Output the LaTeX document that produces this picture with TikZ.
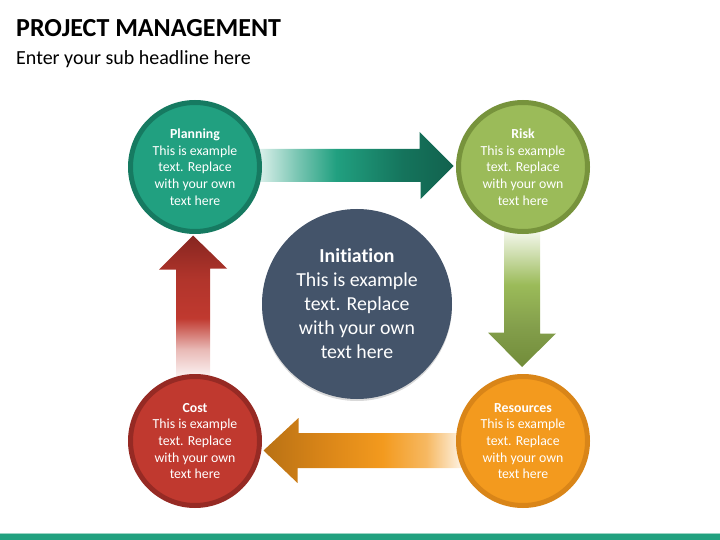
\documentclass[tikz,border=0pt]{standalone}
\usepackage{fontspec}
\setmainfont{Carlito}[Ligatures=NoCommon]
\usetikzlibrary{positioning, backgrounds, calc, shadows}

\definecolor{planfill}{HTML}{21A080}
\definecolor{planline}{HTML}{167A61}
\definecolor{riskfill}{HTML}{9BBB59}
\definecolor{riskline}{HTML}{77933C}
\definecolor{resfill}{HTML}{F39A1E}
\definecolor{resline}{HTML}{D98518}
\definecolor{costfill}{HTML}{C0392F}
\definecolor{costline}{HTML}{962A24}
\definecolor{initfill}{HTML}{44546A}
\definecolor{barteal}{HTML}{22A17F}

% arrow fades: the path spans 25bp..75bp of each shading
\pgfdeclarehorizontalshading{tealflow}{100bp}{color(0bp)=(planfill!15!white); color(25bp)=(planfill!15!white);
  color(35bp)=(planfill!60!white); color(45bp)=(planfill); color(62bp)=(planline!95!black); color(75bp)=(planline!80!black); color(100bp)=(planline!80!black)}
\pgfdeclareverticalshading{greenflow}{100bp}{color(0bp)=(riskline!95!black); color(25bp)=(riskline!95!black);
  color(40bp)=(riskfill!85!black); color(55bp)=(riskfill); color(67bp)=(riskfill!45!white); color(75bp)=(riskfill!10!white); color(100bp)=(riskfill!10!white)}
\pgfdeclarehorizontalshading{orangeflow}{100bp}{color(0bp)=(resline!85!black); color(25bp)=(resline!85!black);
  color(40bp)=(resline); color(55bp)=(resfill); color(66bp)=(resfill!70!white); color(75bp)=(resfill!12!white); color(100bp)=(resfill!12!white)}
\pgfdeclareverticalshading{redflow}{100bp}{color(0bp)=(costfill!5!white); color(25bp)=(costfill!5!white);
  color(35bp)=(costfill!35!white); color(46bp)=(costfill); color(60bp)=(costfill!92!black); color(75bp)=(costline!90!black); color(100bp)=(costline!90!black)}

\tikzset{
  stage/.style={circle, minimum size=129pt, line width=5pt, inner sep=0pt,
    text=white, align=center, font=\fontsize{13.8}{16.7}\selectfont},
}

\begin{document}
\begin{tikzpicture}[x=1pt, y=-1pt]
    \useasboundingbox (0,0) rectangle (720,540);

    \node[font=\fontsize{26}{30}\selectfont\bfseries, anchor=base west, inner sep=0pt] (title) at (16,37) {PROJECT MANAGEMENT};
    \node[font=\fontsize{20}{24}\selectfont, anchor=base west, inner sep=0pt] (subtitle) at (16,65) {Enter your sub headline here};

    \node[stage, draw=planline, fill=planfill] (plan) at (195,167) {\textbf{Planning}\\This is example\\text. Replace\\with your own\\text here};
    \node[stage, draw=riskline, fill=riskfill] (risk) at (523,167) {\textbf{Risk}\\This is example\\text. Replace\\with your own\\text here};
    \node[stage, draw=resline, fill=resfill] (res) at (523,441) {\textbf{Resources}\\This is example\\text. Replace\\with your own\\text here};
    \node[stage, draw=costline, fill=costfill] (cost) at (195,441) {\textbf{Cost}\\This is example\\text. Replace\\with your own\\text here};

    \node[circle, minimum size=190pt, inner sep=0pt, fill=initfill, text=white, align=center,
          font=\fontsize{19.8}{24}\selectfont,
          drop shadow={opacity=0.3, shadow xshift=0pt, shadow yshift=-2pt}] (init) at (357,304)
          {\textbf{Initiation}\\This is example\\text. Replace\\with your own\\text here};

    \begin{scope}[on background layer]
    % planning -> risk
    \shade[shading=tealflow]
        ($(plan.east)+(-4,-18)$) -- ++(161.5,0) -- ++(0,-17) -- ($(risk.west)+(-2.5,-1)$)
        -- ++(-33,33) -- ++(0,-17) -- ++(-161.5,0) -- cycle;
    % risk -> resources
    \shade[shading=greenflow]
        ($(risk.south)+(-19,-4)$) -- ++(0,102.5) -- ++(-16,0) -- ($(res.north)+(-1,-7)$)
        -- ++(34,-33.5) -- ++(-16,0) -- ++(0,-102.5) -- cycle;
    % resources -> cost
    \shade[shading=orangeflow]
        ($(res.west)+(6,-8)$) -- ++(-163.5,0) -- ++(0,-15) -- ($(cost.east)+(1.5,9.5)$)
        -- ++(34,32.5) -- ++(0,-15) -- ++(163.5,0) -- cycle;
    % cost -> planning
    \shade[shading=redflow]
        ($(cost.north)+(-19,4)$) -- ++(0,-108.5) -- ++(-17,0) -- ($(plan.south)+(-2,1.5)$)
        -- ++(34,33) -- ++(-17,0) -- ++(0,108.5) -- cycle;
    \end{scope}

    \fill[barteal!45!white] (0,532.5) rectangle (720,534);
    \fill[barteal] (0,534) rectangle (720,540);
\end{tikzpicture}
\end{document}
